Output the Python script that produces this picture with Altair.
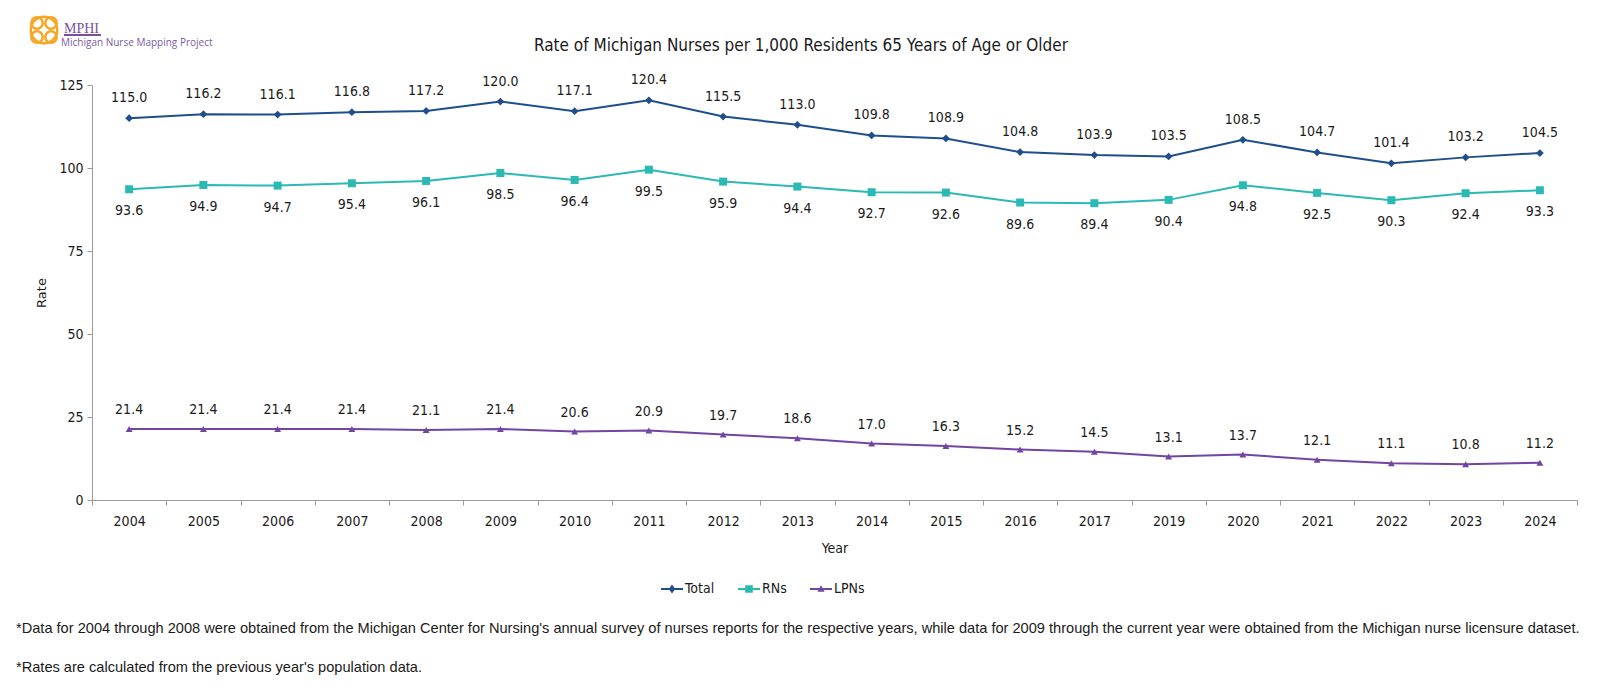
import altair as alt
import pandas as pd

years = ["2004", "2005", "2006", "2007", "2008", "2009", "2010", "2011", "2012", "2013",
         "2014", "2015", "2016", "2017", "2019", "2020", "2021", "2022", "2023", "2024"]
total = [115.0, 116.2, 116.1, 116.8, 117.2, 120.0, 117.1, 120.4, 115.5, 113.0,
         109.8, 108.9, 104.8, 103.9, 103.5, 108.5, 104.7, 101.4, 103.2, 104.5]
rns = [93.6, 94.9, 94.7, 95.4, 96.1, 98.5, 96.4, 99.5, 95.9, 94.4,
       92.7, 92.6, 89.6, 89.4, 90.4, 94.8, 92.5, 90.3, 92.4, 93.3]
lpns = [21.4, 21.4, 21.4, 21.4, 21.1, 21.4, 20.6, 20.9, 19.7, 18.6,
        17.0, 16.3, 15.2, 14.5, 13.1, 13.7, 12.1, 11.1, 10.8, 11.2]
series_names = ["Total", "RNs", "LPNs"]
series_colors = ["#1F4E8C", "#2BB9B4", "#7245A3"]
series_shapes = ["diamond", "square", "triangle-up"]
series_sizes = [60, 64, 48]
label_dy = [-20, 22, -19]
y_ticks = [0, 25, 50, 75, 100, 125]

title_text = "Rate of Michigan Nurses per 1,000 Residents 65 Years of Age or Older"
note1 = ("*Data for 2004 through 2008 were obtained from the Michigan Center for Nursing's annual survey "
         "of nurses reports for the respective years, while data for 2009 through the current year were "
         "obtained from the Michigan nurse licensure dataset.")
note2 = "*Rates are calculated from the previous year's population data."

rows = []
for name, vals in zip(series_names, [total, rns, lpns]):
    for y, v in zip(years, vals):
        rows.append({"Year": y, "Rate": v, "Series": name})
df = pd.DataFrame(rows)

FONT = "DejaVu Sans Condensed, DejaVu Sans"
W, H = 1485, 415

x_enc = alt.X("Year:N", sort=years, bandPosition=0.5,
              scale=alt.Scale(type="band", domain=years, paddingInner=0, paddingOuter=0),
              axis=alt.Axis(title="Year", tickBand="extent", labelAngle=0, tickSize=5,
                            labelPadding=9, titlePadding=13, labelFontSize=14, titleFontSize=14,
                            labelFont=FONT, titleFont=FONT, titleFontWeight="normal",
                            domainColor="#9a9a9a", tickColor="#9a9a9a", labelColor="#1a1a1a",
                            titleColor="#1a1a1a", grid=False))
y_enc = alt.Y("Rate:Q",
              scale=alt.Scale(domain=[0, 125], nice=False, zero=True),
              axis=alt.Axis(title="Rate", values=y_ticks, tickSize=5, labelPadding=4,
                            titlePadding=10, labelFontSize=14, titleFontSize=13,
                            labelFont=FONT, titleFont="DejaVu Sans", titleFontWeight="normal",
                            domainColor="#9a9a9a", tickColor="#9a9a9a", labelColor="#1a1a1a",
                            titleColor="#1a1a1a", grid=False))

base = alt.Chart(df).encode(x=x_enc, y=y_enc)

series_layers = []
for name, col, shp, sz, dy in zip(series_names, series_colors, series_shapes, series_sizes, label_dy):
    sub = base.transform_filter(alt.datum.Series == name)
    series_layers.append(sub.mark_line(strokeWidth=2, color=col))
    series_layers.append(sub.mark_point(filled=True, opacity=1, shape=shp, size=sz, color=col))
    series_layers.append(
        sub.mark_text(dy=dy, fontSize=14, font=FONT, color="#1a1a1a")
        .encode(text=alt.Text("Rate:Q", format=".1f")))

legend_paths = [
    "M-2.75,-0.25L2.75,-0.25L2.75,0.25L-2.75,0.25Z M0,-1.15L0.8,0L0,1.15L-0.8,0Z",
    "M-2.75,-0.25L2.75,-0.25L2.75,0.25L-2.75,0.25Z M-0.95,-0.95L0.95,-0.95L0.95,0.95L-0.95,0.95Z",
    "M-2.75,-0.25L2.75,-0.25L2.75,0.25L-2.75,0.25Z M0,-0.95L0.9,0.7L-0.9,0.7Z",
]
legend_props = dict(title=None, orient="none", direction="horizontal", legendX=573, legendY=497,
                    labelFont=FONT, labelFontSize=14, labelColor="#1a1a1a", labelOffset=6,
                    columnPadding=23, symbolSize=64, symbolStrokeWidth=0, symbolOpacity=1,
                    padding=0)
legend_layer = base.mark_point(filled=True, opacity=0, size=64).encode(
    color=alt.Color("Series:N", scale=alt.Scale(domain=series_names, range=series_colors),
                    legend=alt.Legend(**legend_props)),
    shape=alt.Shape("Series:N", scale=alt.Scale(domain=series_names, range=legend_paths),
                    legend=alt.Legend(**legend_props)))

def deco_text(txt, x, y, **kw):
    return alt.Chart(pd.DataFrame({"t": [txt]})).mark_text(**kw).encode(
        text="t:N", x=alt.value(x), y=alt.value(y))

title = deco_text(title_text, 709, -39, fontSize=17, font=FONT, color="#1a1a1a",
                  align="center", baseline="middle")
foot1 = deco_text(note1, -76, 544, fontSize=14.6, font="Liberation Sans", color="#1a1a1a",
                  align="left", baseline="middle")
foot2 = deco_text(note2, -76, 583, fontSize=14.6, font="Liberation Sans", color="#1a1a1a",
                  align="left", baseline="middle")
logo_mphi = deco_text("MPHI", -28, -56, fontSize=14, font="Liberation Serif", color="#7B4F9E",
                      align="left", baseline="middle")
logo_sub = deco_text("Michigan Nurse Mapping Project", -31, -42, fontSize=10, font="Open Sans",
                     color="#7B5BA6", align="left", baseline="middle")
logo_line = alt.Chart(pd.DataFrame({"a": [0]})).mark_rule(color="#7B4F9E", strokeWidth=2).encode(
    x=alt.value(-28), x2=alt.value(9), y=alt.value(-50))
rings = []
for cx, cy, sz in [(-48, -55, 700), (-55, -62, 130), (-41, -62, 130), (-55, -48, 130), (-41, -48, 130)]:
    rings.append(alt.Chart(pd.DataFrame({"a": [0]})).mark_point(
        shape="circle", filled=False, color="#F5A623", strokeWidth=2.5, size=sz, opacity=1).encode(
        x=alt.value(cx), y=alt.value(cy)))

chart = alt.layer(legend_layer, *series_layers, title, foot1, foot2,
                  logo_mphi, logo_sub, logo_line, *rings).properties(
    width=W, height=H,
    autosize=alt.AutoSizeParams(type="none"),
    padding={"left": 92, "top": 85, "right": 33, "bottom": 188},
    background="white"
).configure_view(stroke=None)

chart.save("out.html", embed_options={"renderer": "svg", "actions": False})
